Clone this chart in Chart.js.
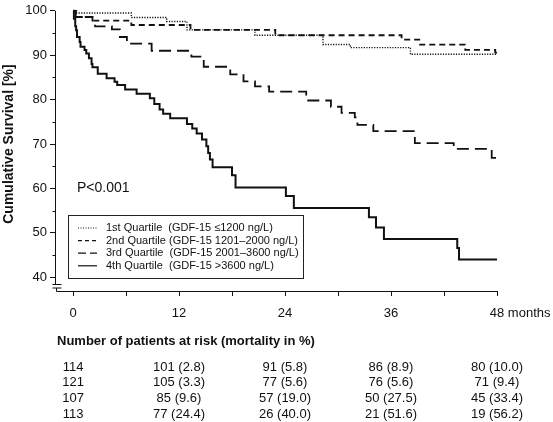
<!DOCTYPE html>
<html>
<head>
<meta charset="utf-8">
<script src="https://cdn.jsdelivr.net/npm/chart.js@4.4.0/dist/chart.umd.min.js"></script>
<style>
  html, body { margin: 0; padding: 0; background: #fff; }
  #chart { display: block; }
</style>
</head>
<body>
<canvas id="chart" width="553" height="422"></canvas>
<script>
// Kaplan-Meier steps: month of each drop and survival (%) after it
var q1Months = [0, 0.4, 6.6, 10.6, 12.9, 20.6, 28.3, 31.4, 38.2, 48];
var q1Surv   = [100, 99.5, 98.5, 97.6, 95.7, 94.5, 92.4, 91.7, 90.2, 90.2];

var q2Months = [0, 0.3, 2.2, 6.6, 13.3, 22.9, 37.2, 39.3, 44.4, 47.8, 48];
var q2Surv   = [100, 98.6, 97.8, 96.8, 95.7, 94.5, 93.5, 92.4, 91.2, 90.6, 90.6];

var q3Months = [0, 0.3, 2.2, 2.5, 4.4, 5.3, 6.1, 8.9, 13.4, 14.8, 17.8, 19.3, 20.6, 22.2, 26.4, 29.2, 30.4, 31.9, 32.2, 34.0, 38.7, 43.1, 47.4, 48];
var q3Surv   = [100, 98.6, 97.8, 96.5, 95.8, 94.1, 92.6, 91.0, 89.7, 87.4, 85.7, 84.1, 83.0, 81.8, 79.8, 78.4, 77.0, 76.0, 74.3, 72.9, 70.2, 68.9, 66.9, 66.9];

var q4Months = [0, 0.1, 0.25, 0.35, 0.45, 0.75, 0.85, 1.3, 1.5, 1.8, 2.1, 2.2, 2.8, 3.8, 4.7, 5.0, 5.9, 7.2, 8.7, 9.2, 9.8, 10.2, 11.0, 12.9, 13.5, 14.0, 14.6, 15.1, 15.3, 15.5, 15.8, 18.0, 18.4, 24.1, 25.0, 33.5, 34.3, 35.2, 43.5, 43.7, 48];
var q4Surv   = [100, 98.2, 96.5, 95.6, 94.1, 93.0, 91.9, 91.2, 90.4, 89.3, 88.0, 87.3, 85.8, 84.8, 84.0, 83.3, 82.3, 81.3, 80.3, 79.0, 77.8, 76.8, 75.8, 74.5, 73.5, 72.4, 71.0, 69.5, 68.0, 66.5, 64.8, 63.0, 60.2, 58.3, 55.6, 53.5, 51.2, 48.6, 46.6, 44.0, 44.0];

var quartileLabels = [
  '1st Quartile  (GDF-15 \u22641200 ng/L)',
  '2nd Quartile (GDF-15 1201\u20132000 ng/L)',
  '3rd Quartile  (GDF-15 2001\u20133600 ng/L)',
  '4th Quartile  (GDF-15 >3600 ng/L)'
];

var xTicks = [0, 6, 12, 18, 24, 30, 36, 42, 48];
var xLabelTicks = [0, 12, 24, 36, 48];
var yTicks = [40, 50, 60, 70, 80, 90, 100];
var yMinorTicks = [45, 55, 65, 75, 85, 95];

// patients at risk (mortality in %) at 0, 12, 24, 36, 48 months
var riskMonths = [0, 12, 24, 36, 48];
var riskQ1 = ['114', '101 (2.8)', '91 (5.8)', '86 (8.9)', '80 (10.0)'];
var riskQ2 = ['121', '105 (3.3)', '77 (5.6)', '76 (5.6)', '71 (9.4)'];
var riskQ3 = ['107', '85 (9.6)', '57 (19.0)', '50 (27.5)', '45 (33.4)'];
var riskQ4 = ['113', '77 (24.4)', '26 (40.0)', '21 (51.6)', '19 (56.2)'];

var FONT = '"Liberation Sans", Arial, sans-serif';
var INK = '#111';

function pts(months, surv) {
  return months.map(function(m, i) { return {x: m, y: surv[i]}; });
}

var styles = [
  {width: 1.4, dash: [1.2, 1.4], legendDash: [1, 1.5]},
  {width: 1.8, dash: [6, 4], legendDash: [4, 3]},
  {width: 1.8, dash: [12, 6], legendDash: [8, 4]},
  {width: 2, dash: [], legendDash: []}
];

var series = [pts(q1Months, q1Surv), pts(q2Months, q2Surv), pts(q3Months, q3Surv), pts(q4Months, q4Surv)];

var datasets = series.map(function(d, i) {
  return {
    label: quartileLabels[i],
    data: d,
    stepped: 'before',
    borderColor: INK,
    borderWidth: styles[i].width,
    borderDash: styles[i].dash,
    pointRadius: 0,
    fill: false,
    clip: false
  };
});

var extras = {
  id: 'extras',
  afterDraw: function(chart) {
    var ctx = chart.ctx, a = chart.chartArea;
    var xs = chart.scales.x, ys = chart.scales.y;
    ctx.save();
    ctx.strokeStyle = INK;
    ctx.fillStyle = INK;
    ctx.lineWidth = 1;
    ctx.setLineDash([]);

    // broken axes
    var ax = a.left + 0.5, bot = a.bottom + 0.5;
    ctx.beginPath();
    ctx.moveTo(ax, ys.getPixelForValue(100));
    ctx.lineTo(ax, bot - 7);
    ctx.moveTo(ax - 3, bot - 7); ctx.lineTo(ax + 6, bot - 7);
    ctx.moveTo(ax - 3, bot - 3.5); ctx.lineTo(ax + 6, bot - 3.5);
    ctx.moveTo(ax + 1, bot - 3.5); ctx.lineTo(ax + 1, bot);
    ctx.lineTo(xs.getPixelForValue(48), bot);
    // short minor ticks on the y axis
    yMinorTicks.forEach(function(v) {
      var py = Math.round(ys.getPixelForValue(v)) + 0.5;
      ctx.moveTo(ax - 3, py); ctx.lineTo(ax, py);
    });
    ctx.stroke();

    // y title
    ctx.save();
    ctx.translate(9, (ys.getPixelForValue(100) + ys.getPixelForValue(40)) / 2);
    ctx.rotate(-Math.PI / 2);
    ctx.font = 'bold 14px ' + FONT;
    ctx.textAlign = 'center';
    ctx.textBaseline = 'middle';
    ctx.fillText('Cumulative Survival [%]', 0, 0);
    ctx.restore();

    // "months" after 48
    ctx.font = '13px ' + FONT;
    ctx.textBaseline = 'middle';
    ctx.textAlign = 'left';
    var x48 = xs.getPixelForValue(48);
    ctx.fillText(' months', x48 + ctx.measureText('48').width / 2, 313.5);

    // P value
    ctx.font = '14px ' + FONT;
    ctx.fillText('P<0.001', xs.getPixelForValue(0) + 4, ys.getPixelForValue(60));

    // legend
    var lx = 68.5, ly = 215.5, lw = 235, lh = 63;
    ctx.fillStyle = '#fff';
    ctx.fillRect(lx, ly, lw, lh);
    ctx.strokeStyle = '#222';
    ctx.strokeRect(lx, ly, lw, lh);
    ctx.font = '11px ' + FONT;
    ctx.textAlign = 'left';
    for (var i = 0; i < quartileLabels.length; i++) {
      var ry = 228 + i * 12.6;
      ctx.strokeStyle = INK;
      ctx.lineWidth = i === 0 ? 1 : 1.2;
      ctx.setLineDash(styles[i].legendDash);
      ctx.beginPath();
      ctx.moveTo(78, ry); ctx.lineTo(97, ry);
      ctx.stroke();
      ctx.setLineDash([]);
      ctx.fillStyle = INK;
      ctx.fillText(quartileLabels[i], 106, ry);
    }

    // at-risk table
    ctx.fillStyle = INK;
    ctx.font = 'bold 13px ' + FONT;
    ctx.fillText('Number of patients at risk (mortality in %)', 57, 341);
    ctx.font = '13px ' + FONT;
    ctx.textAlign = 'center';
    [riskQ1, riskQ2, riskQ3, riskQ4].forEach(function(row, r) {
      var ry = 367 + r * 15.8;
      row.forEach(function(txt, c) {
        ctx.fillText(txt, xs.getPixelForValue(riskMonths[c]), ry);
      });
    });
    ctx.restore();
  }
};

Chart.defaults.font.family = FONT;
Chart.defaults.font.size = 13;
Chart.defaults.color = INK;

new Chart(document.getElementById('chart'), {
  type: 'line',
  data: { datasets: datasets },
  options: {
    responsive: false,
    animation: false,
    events: [],
    layout: { padding: { top: 5, right: 56, left: 0, bottom: 0 } },
    plugins: { legend: { display: false }, tooltip: { enabled: false } },
    scales: {
      x: {
        type: 'linear',
        min: -2.04,
        max: 48,
        afterBuildTicks: function(s) { s.ticks = xTicks.map(function(v) { return {value: v}; }); },
        afterFit: function(s) { s.height = 131; },
        border: { display: false },
        grid: { drawOnChartArea: false, tickLength: 5, color: INK },
        ticks: {
          padding: 10,
          maxRotation: 0,
          autoSkip: false,
          font: { size: 13 },
          callback: function(v) { return xLabelTicks.indexOf(v) >= 0 ? String(v) : ''; }
        }
      },
      y: {
        type: 'linear',
        min: 36.91,
        max: 100,
        afterBuildTicks: function(s) { s.ticks = yTicks.map(function(v) { return {value: v}; }); },
        afterFit: function(s) { s.width = 55; },
        border: { display: false },
        grid: { drawOnChartArea: false, tickLength: 5, color: INK },
        ticks: {
          padding: 3,
          autoSkip: false,
          font: { size: 13 },
          callback: function(v) { return String(v); }
        }
      }
    }
  },
  plugins: [extras]
});
</script>
</body>
</html>
